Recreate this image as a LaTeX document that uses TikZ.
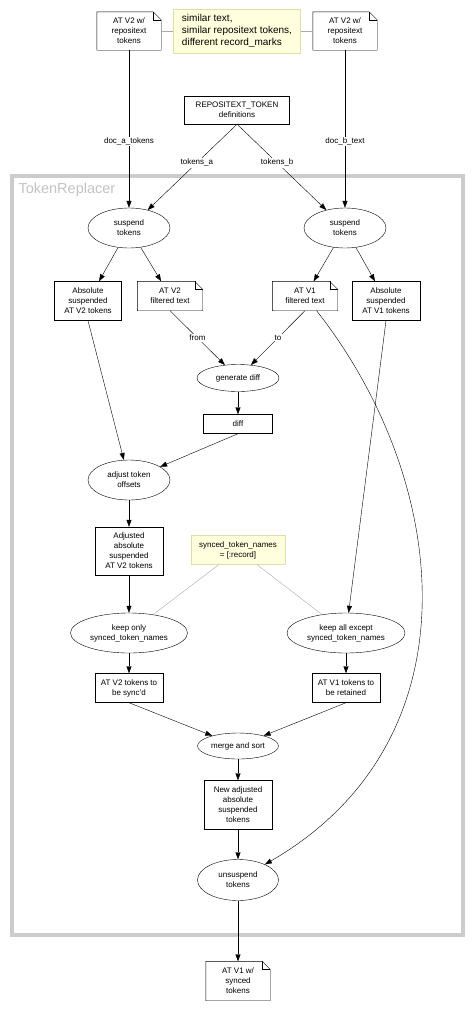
\documentclass[tikz,border=0pt]{standalone}
\usepackage{fontspec}
\setmainfont{Liberation Sans}
\usetikzlibrary{positioning, arrows.meta, shapes.geometric}

% folded-corner outline for document nodes
\newcommand{\foldeddoc}[1]{%
  \draw (#1.north west) -- ([xshift=-8pt]#1.north east) -- ([yshift=-8pt]#1.north east)
        -- (#1.south east) -- (#1.south west) -- cycle;
  \draw ([xshift=-8pt]#1.north east) -- ([xshift=-8pt,yshift=-8pt]#1.north east)
        -- ([yshift=-8pt]#1.north east);
}

\begin{document}
\begin{tikzpicture}[
    x=1pt, y=-1pt,
    font=\fontsize{8}{10}\selectfont,
    box/.style={
        draw,
        inner sep=0pt,
        minimum width=68pt,
        align=center
    },
    doc/.style={
        inner sep=0pt,
        minimum width=64pt,
        align=center
    },
    proc/.style={
        draw,
        ellipse,
        inner sep=0pt,
        minimum width=82pt,
        minimum height=40pt,
        align=center
    },
    note/.style={
        draw={rgb,255:red,222;green,222;blue,170},
        fill={rgb,255:red,255;green,255;blue,221},
        inner sep=0pt
    },
    cluster/.style={draw={rgb,255:red,204;green,204;blue,204}, line width=4pt},
    arrow/.style={-{Triangle[length=7pt,width=5pt]}},
    link/.style={draw={rgb,255:red,170;green,170;blue,170}},
    lbl/.style={fill=white, inner sep=1pt}
]
\useasboundingbox (0,0) rectangle (474,1010);

% TokenReplacer cluster
\draw[cluster] (12,176) rectangle (463,935);
\node[anchor=west, text={rgb,255:red,195;green,195;blue,195}, font=\fontsize{14.5}{16}\selectfont]
    (clusterlbl) at (15,190) {TokenReplacer};

% inputs
\node[doc, minimum height=38pt] (docA) at (129,31) {AT V2 w/\\repositext\\tokens};
\node[doc, minimum height=38pt] (docB) at (345,31) {AT V2 w/\\repositext\\tokens};
\node[note, minimum width=127pt, minimum height=44pt, align=left,
      font=\fontsize{10}{11.7}\selectfont] (noteSim) at (237,31)
    {similar text,\\similar repositext tokens,\\different record\_marks};
\node[box, minimum width=105pt, minimum height=28pt] (repdef) at (237,110)
    {REPOSITEXT\_TOKEN\\definitions};
\foldeddoc{docA}
\foldeddoc{docB}

% suspend
\node[proc] (suspA) at (129,228) {suspend\\tokens};
\node[proc] (suspB) at (345,228) {suspend\\tokens};
\node[box, minimum width=67pt, minimum height=39pt] (absA) at (88,301)
    {Absolute\\suspended\\AT V2 tokens};
\node[doc, minimum width=65pt, minimum height=29pt] (textA) at (170,296) {AT V2\\filtered text};
\node[doc, minimum width=65pt, minimum height=29pt] (textB) at (305,296) {AT V1\\filtered text};
\node[box, minimum height=39pt] (absB) at (386,301)
    {Absolute\\suspended\\AT V1 tokens};
\foldeddoc{textA}
\foldeddoc{textB}

% diff
\node[proc, minimum height=27pt] (gendiff) at (238,378) {generate diff};
\node[box, minimum width=69pt, minimum height=19pt] (diff) at (238,424) {diff};
\node[proc] (adjust) at (129,480) {adjust token\\offsets};
\node[box, minimum height=48pt] (adjA) at (129,551)
    {Adjusted\\absolute\\suspended\\AT V2 tokens};

% filter
\node[note, minimum width=94pt, minimum height=29pt, align=center] (noteSync) at (238,550)
    {synced\_token\_names\\= [:record]};
\node[proc, minimum width=117pt] (keepA) at (129,633) {keep only\\synced\_token\_names};
\node[proc, minimum width=118pt] (keepB) at (346,633) {keep all except\\synced\_token\_names};
\node[box, minimum height=29pt] (syncA) at (129,688) {AT V2 tokens to\\be sync'd};
\node[box, minimum height=29pt] (retB) at (346,688) {AT V1 tokens to\\be retained};

% merge and output
\node[proc, minimum width=81pt, minimum height=26pt] (merge) at (238,746) {merge and sort};
\node[box, minimum height=49pt] (newadj) at (238,805)
    {New adjusted\\absolute\\suspended\\tokens};
\node[proc, minimum width=81pt, minimum height=41pt] (unsusp) at (238,880) {unsuspend\\tokens};
\node[doc, minimum height=39pt] (docOut) at (238,981) {AT V1 w/\\synced\\tokens};
\foldeddoc{docOut}

% note links
\draw[link] (docA) -- (noteSim);
\draw[link] (noteSim) -- (docB);
\draw[link] (noteSync) -- (keepA);
\draw[link] (noteSync) -- (keepB);

% edges
\draw[arrow] (docA) -- node[lbl, pos=0.58] {doc\_a\_tokens} (suspA);
\draw[arrow] (docB) -- node[lbl, pos=0.58] {doc\_b\_text} (suspB);
\draw[arrow] (repdef.south) -- node[lbl, pos=0.45] {tokens\_a} (suspA);
\draw[arrow] (repdef.south) -- node[lbl, pos=0.45] {tokens\_b} (suspB);
\draw[arrow] (suspA) -- (absA);
\draw[arrow] (suspA) -- (textA);
\draw[arrow] (suspB) -- (textB);
\draw[arrow] (suspB) -- (absB);
\draw[arrow] (textA.south) -- node[lbl] {from} (gendiff);
\draw[arrow] (textB.south) -- node[lbl] {to} (gendiff);
\draw[arrow] (gendiff) -- (diff);
\draw[arrow] (absA.south) -- (adjust);
\draw[arrow] (diff.south) -- (adjust);
\draw[arrow] (adjust) -- (adjA);
\draw[arrow] (adjA) -- (keepA);
\draw[arrow] (absB.south) -- (keepB);
\draw[arrow] (keepA) -- (syncA);
\draw[arrow] (keepB) -- (retB);
\draw[arrow] (syncA.south) -- (merge);
\draw[arrow] (retB.south) -- (merge);
\draw[arrow] (merge) -- (newadj);
\draw[arrow] (newadj) -- (unsusp);
\draw[arrow] (textB) .. controls (450,480) and (480,740) .. (unsusp);
\draw[arrow] (unsusp) -- (docOut);

\end{tikzpicture}
\end{document}
